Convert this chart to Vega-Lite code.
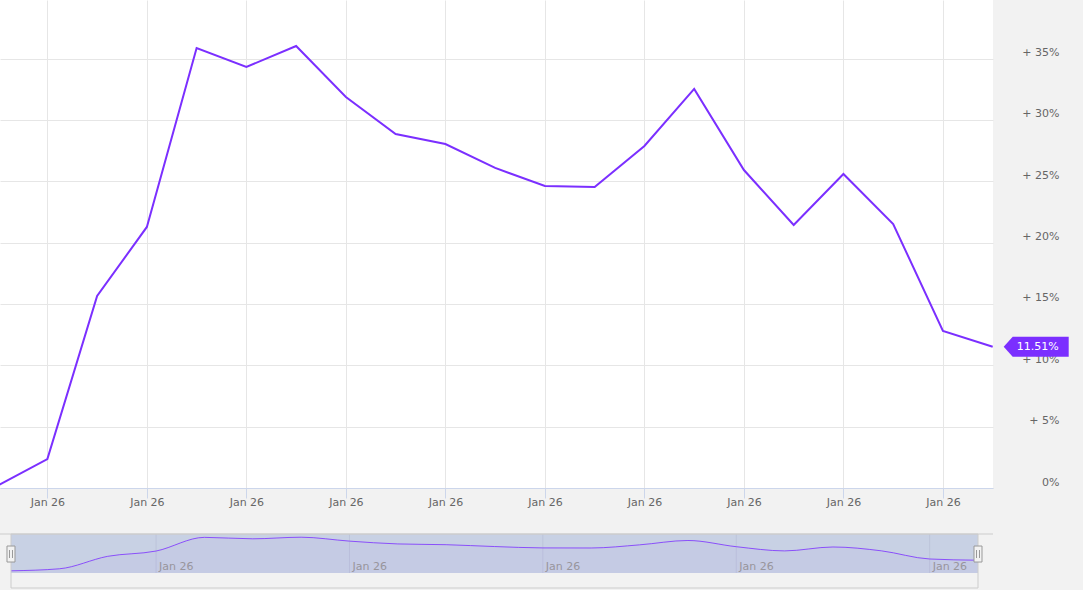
{
  "$schema": "https://vega.github.io/schema/vega-lite/v6.json",
  "background": "#f2f2f2",
  "padding": {"left": -1, "top": 0, "right": 14, "bottom": 2},
  "autosize": {"type": "pad"},
  "spacing": 26,
  "config": {
    "view": {"stroke": null},
    "font": "DejaVu Sans"
  },
  "datasets": {
    "series": [
      {"date": "2026-01-05", "value": 0.2},
      {"date": "2026-01-06", "value": 2.36},
      {"date": "2026-01-07", "value": 15.65},
      {"date": "2026-01-08", "value": 21.28},
      {"date": "2026-01-09", "value": 35.87},
      {"date": "2026-01-10", "value": 34.32},
      {"date": "2026-01-11", "value": 36.03},
      {"date": "2026-01-12", "value": 31.87},
      {"date": "2026-01-13", "value": 28.86},
      {"date": "2026-01-14", "value": 28.04},
      {"date": "2026-01-15", "value": 26.09},
      {"date": "2026-01-16", "value": 24.62},
      {"date": "2026-01-17", "value": 24.54},
      {"date": "2026-01-18", "value": 27.88},
      {"date": "2026-01-19", "value": 32.53},
      {"date": "2026-01-20", "value": 25.92},
      {"date": "2026-01-21", "value": 21.44},
      {"date": "2026-01-22", "value": 25.6},
      {"date": "2026-01-23", "value": 21.52},
      {"date": "2026-01-24", "value": 12.8},
      {"date": "2026-01-25", "value": 11.51}
    ],
    "last": [{"date": "2026-01-25", "value": 11.51, "label": "11.51%"}],
    "navTicks": [
      {"date": "2026-01-08"},
      {"date": "2026-01-12"},
      {"date": "2026-01-16"},
      {"date": "2026-01-20"},
      {"date": "2026-01-24"}
    ],
    "selection": [{"date": "2026-01-05", "end": "2026-01-25"}],
    "handles": [{"date": "2026-01-05"}, {"date": "2026-01-25"}],
    "navTop": [{"date": 1767551544000, "end": 1769325984000}]
  },
  "vconcat": [
    {
      "width": 993,
      "height": 488,
      "view": {"fill": "#ffffff", "stroke": null},
      "encoding": {
        "x": {
          "field": "date",
          "type": "temporal",
          "scale": {"type": "utc", "domain": [1767575350000, 1769299720000]},
          "title": null,
          "axis": {
            "values": [1767657600000, 1767830400000, 1768003200000, 1768176000000, 1768348800000, 1768521600000, 1768694400000, 1768867200000, 1769040000000, 1769212800000],
            "format": "%b %y",
            "grid": true,
            "gridColor": "#e6e6e6",
            "domainColor": "#ccd6eb",
            "tickColor": "#ccd6eb",
            "tickSize": 10,
            "labelPadding": -2,
            "labelColor": "#666666",
            "labelFontSize": 11,
            "labelFlush": false,
            "labelOverlap": false
          }
        },
        "y": {
          "field": "value",
          "type": "quantitative",
          "scale": {"domain": [0, 39.78], "nice": false, "zero": false},
          "title": null,
          "axis": {
            "orient": "right",
            "values": [0, 5, 10, 15, 20, 25, 30, 35],
            "labelExpr": "datum.value == 0 ? '0%' : '+ ' + datum.value + '%'",
            "grid": true,
            "gridColor": "#e6e6e6",
            "domain": false,
            "ticks": false,
            "labelAlign": "right",
            "labelPadding": 66,
            "labelOffset": -6,
            "labelColor": "#666666",
            "labelFontSize": 11,
            "labelFlush": false,
            "labelOverlap": false
          }
        }
      },
      "layer": [
        {
          "data": {"name": "series"},
          "mark": {"type": "line", "color": "#7b2fff", "strokeWidth": 2, "clip": true}
        },
        {
          "data": {"name": "last"},
          "mark": {"type": "point", "shape": "M11 0L20 -10L76 -10L76 10L20 10Z", "size": 4, "filled": true, "color": "#7b2fff", "opacity": 1, "clip": false}
        },
        {
          "data": {"name": "last"},
          "mark": {"type": "text", "color": "#ffffff", "fontSize": 11, "dx": 45, "align": "center", "baseline": "middle", "clip": false},
          "encoding": {"text": {"field": "label"}}
        }
      ]
    },
    {
      "width": 993,
      "height": 54,
      "encoding": {
        "x": {
          "field": "date",
          "type": "temporal",
          "scale": {"type": "utc", "domain": [1767551544000, 1769325984000]},
          "axis": null
        },
        "y": {
          "type": "quantitative",
          "scale": {"domain": [-18.12, 39.45], "nice": false, "zero": false},
          "axis": null
        }
      },
      "layer": [
        {
          "data": {"name": "selection"},
          "mark": {"type": "rect", "fill": "#c8d1e4"},
          "encoding": {
            "x2": {"field": "end"},
            "y": {"datum": 39.45, "type": "quantitative"},
            "y2": {"datum": -2.13}
          }
        },
        {
          "data": {"name": "navTicks"},
          "mark": {"type": "rule", "color": "#bcc4da", "strokeWidth": 1},
          "encoding": {
            "y": {"datum": 39.45, "type": "quantitative"},
            "y2": {"datum": -2.13}
          }
        },
        {
          "data": {"name": "navTicks"},
          "mark": {"type": "text", "color": "#999999", "fontSize": 11, "align": "left", "dx": 3, "baseline": "middle"},
          "encoding": {
            "y": {"datum": 3.9, "type": "quantitative"},
            "text": {"field": "date", "type": "temporal", "format": "%b %y"}
          }
        },
        {
          "data": {"name": "series"},
          "mark": {"type": "area", "color": "#7b2fff", "opacity": 0.03, "interpolate": "monotone"},
          "encoding": {
            "y": {"field": "value", "type": "quantitative"},
            "y2": {"datum": -2.13}
          }
        },
        {
          "data": {"name": "series"},
          "mark": {"type": "line", "color": "#7b2fff", "strokeWidth": 1, "strokeOpacity": 0.8, "interpolate": "monotone"},
          "encoding": {"y": {"field": "value", "type": "quantitative"}}
        },
        {
          "data": {"name": "navTop"},
          "mark": {"type": "rule", "color": "#cccccc", "strokeWidth": 1},
          "encoding": {
            "x2": {"field": "end"},
            "y": {"datum": 39.45, "type": "quantitative"}
          }
        },
        {
          "data": {"name": "selection"},
          "mark": {"type": "rect", "fillOpacity": 0, "stroke": "#cccccc", "strokeWidth": 1},
          "encoding": {
            "x2": {"field": "end"},
            "y": {"datum": 39.45, "type": "quantitative"},
            "y2": {"datum": -18.12}
          }
        },
        {
          "data": {"name": "handles"},
          "mark": {"type": "point", "shape": "M-4 -8H4V8H-4Z", "size": 4, "filled": true, "fill": "#f2f2f2", "stroke": "#999999", "strokeWidth": 1, "opacity": 1},
          "encoding": {"y": {"datum": 18.1, "type": "quantitative"}}
        },
        {
          "data": {"name": "handles"},
          "mark": {"type": "point", "shape": "M-1.5 -4V4M1.5 -4V4", "size": 4, "filled": false, "stroke": "#999999", "strokeWidth": 1, "opacity": 1},
          "encoding": {"y": {"datum": 18.1, "type": "quantitative"}}
        }
      ]
    }
  ]
}
